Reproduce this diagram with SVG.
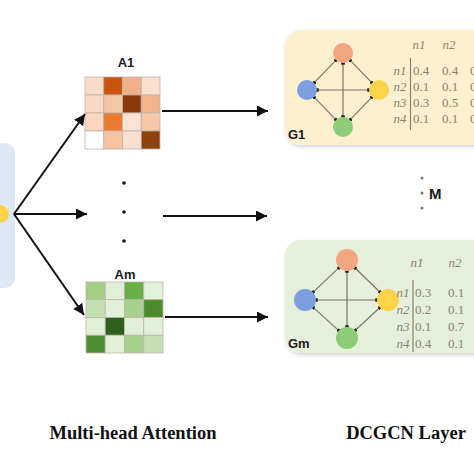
<svg xmlns="http://www.w3.org/2000/svg" width="474" height="474" viewBox="0 0 474 474">
<defs>
<style>
.arr{stroke:#111;stroke-width:2;fill:none;marker-end:url(#ah)}
.edge{stroke:#7d7565;stroke-width:1.2;fill:none;marker-start:url(#sq);marker-end:url(#sq)}
.lbl{font-family:"Liberation Sans",Arial,sans-serif;font-weight:bold;fill:#1a1a1a}
.cap{font-family:"Liberation Serif","Times New Roman",serif;font-weight:bold;font-size:18.5px;fill:#111}
.tb{font-family:"Liberation Serif","Times New Roman",serif;font-size:13px;fill:#8a8070}
.tbi{font-family:"Liberation Serif","Times New Roman",serif;font-style:italic;font-size:13px;fill:#8a8070}
.grid rect{stroke:#bdb3ad;stroke-width:0.8}
.dot{fill:#111}
.gdot{fill:#777}
</style>
<marker id="ah" viewBox="0 0 10 10" refX="10" refY="5" markerWidth="11" markerHeight="11" markerUnits="userSpaceOnUse" orient="auto">
<path d="M0,0 L10,5 L0,10 z" fill="#111"/>
</marker>
<marker id="sq" viewBox="0 0 4 4" refX="2" refY="2" markerWidth="3.5" markerHeight="3.5" markerUnits="userSpaceOnUse" orient="auto">
<rect x="0" y="0" width="4" height="4" fill="#222"/>
</marker>
<filter id="sh" x="-10%" y="-10%" width="130%" height="130%">
<feGaussianBlur in="SourceAlpha" stdDeviation="2"/>
<feOffset dx="1" dy="2"/>
<feComponentTransfer><feFuncA type="linear" slope="0.18"/></feComponentTransfer>
<feMerge><feMergeNode/><feMergeNode in="SourceGraphic"/></feMerge>
</filter>
<filter id="soft"><feGaussianBlur stdDeviation="0.6"/></filter>
</defs>
<rect width="474" height="474" fill="#fff"/>

<g id="input">
<rect x="-12" y="143" width="27" height="145" rx="10" fill="#dde8f4"/>
<circle cx="0" cy="214" r="9" fill="#f9d447" filter="url(#soft)"/>
</g>

<g id="A1">
<text class="lbl" x="126" y="67" font-size="13" text-anchor="middle">A1</text>
<g class="grid">
<rect x="85" y="77" width="18.75" height="18" fill="#f9dcc8"/>
<rect x="103.75" y="77" width="18.75" height="18" fill="#c8540f"/>
<rect x="122.5" y="77" width="18.75" height="18" fill="#f0b08a"/>
<rect x="141.25" y="77" width="18.75" height="18" fill="#fbe0cf"/>
<rect x="85" y="95" width="18.75" height="18" fill="#fad8c4"/>
<rect x="103.75" y="95" width="18.75" height="18" fill="#f5c5a5"/>
<rect x="122.5" y="95" width="18.75" height="18" fill="#8a3a0a"/>
<rect x="141.25" y="95" width="18.75" height="18" fill="#f2b48d"/>
<rect x="85" y="113" width="18.75" height="18" fill="#fbd6bf"/>
<rect x="103.75" y="113" width="18.75" height="18" fill="#e97a30"/>
<rect x="122.5" y="113" width="18.75" height="18" fill="#fbe2d3"/>
<rect x="141.25" y="113" width="18.75" height="18" fill="#f6c8a8"/>
<rect x="85" y="131" width="18.75" height="18" fill="#ffffff"/>
<rect x="103.75" y="131" width="18.75" height="18" fill="#f6c2a0"/>
<rect x="122.5" y="131" width="18.75" height="18" fill="#fbe0d0"/>
<rect x="141.25" y="131" width="18.75" height="18" fill="#8f410e"/>
</g>
</g>

<g id="Am">
<text class="lbl" x="125" y="279" font-size="13" text-anchor="middle">Am</text>
<g class="grid">
<rect x="86" y="282" width="19.25" height="17.75" fill="#a3cf85"/>
<rect x="105.25" y="282" width="19.25" height="17.75" fill="#e1efd7"/>
<rect x="124.5" y="282" width="19.25" height="17.75" fill="#6aae46"/>
<rect x="143.75" y="282" width="19.25" height="17.75" fill="#e3f0da"/>
<rect x="86" y="299.75" width="19.25" height="17.75" fill="#c5e0b0"/>
<rect x="105.25" y="299.75" width="19.25" height="17.75" fill="#e2f0d9"/>
<rect x="124.5" y="299.75" width="19.25" height="17.75" fill="#a8d08d"/>
<rect x="143.75" y="299.75" width="19.25" height="17.75" fill="#4c8c2c"/>
<rect x="86" y="317.5" width="19.25" height="17.75" fill="#e1efd8"/>
<rect x="105.25" y="317.5" width="19.25" height="17.75" fill="#2f5f1c"/>
<rect x="124.5" y="317.5" width="19.25" height="17.75" fill="#e1efd8"/>
<rect x="143.75" y="317.5" width="19.25" height="17.75" fill="#e2f0d9"/>
<rect x="86" y="335.25" width="19.25" height="17.75" fill="#4f8f32"/>
<rect x="105.25" y="335.25" width="19.25" height="17.75" fill="#e2f0d9"/>
<rect x="124.5" y="335.25" width="19.25" height="17.75" fill="#a8d08d"/>
<rect x="143.75" y="335.25" width="19.25" height="17.75" fill="#c6e0b3"/>
</g>
</g>

<g id="ellipsis-heads">
<circle class="dot" cx="124" cy="183" r="1.8"/>
<circle class="dot" cx="124" cy="212" r="1.8"/>
<circle class="dot" cx="124" cy="241" r="1.8"/>
</g>

<g id="G1">
<rect x="285" y="30" width="205" height="115" rx="16" fill="#fcf0cf" filter="url(#sh)"/>
<g id="G1-edges">
<line class="edge" x1="336" y1="60.2" x2="314" y2="82.8"/>
<line class="edge" x1="350" y1="60.2" x2="372" y2="82.8"/>
<line class="edge" x1="314" y1="97.2" x2="336" y2="119.8"/>
<line class="edge" x1="372" y1="97.2" x2="350" y2="119.8"/>
<line class="edge" x1="343" y1="63" x2="343" y2="117"/>
<line class="edge" x1="317" y1="90" x2="369" y2="90"/>
</g>
<g filter="url(#soft)">
<circle cx="343" cy="53" r="10" fill="#f4a582"/>
<circle cx="307" cy="90" r="10" fill="#7b9fe0"/>
<circle cx="379" cy="90" r="10" fill="#fdd34a"/>
<circle cx="343" cy="127" r="10" fill="#8fcc7a"/>
</g>
<text class="lbl" x="288" y="139" font-size="13">G1</text>
<g id="G1-table">
<text class="tbi" x="419" y="49" text-anchor="middle">n1</text>
<text class="tbi" x="449" y="49" text-anchor="middle">n2</text>
<line x1="410.5" y1="58" x2="410.5" y2="130" stroke="#8a8070" stroke-width="1.2"/>
<text class="tbi" x="400" y="75" text-anchor="middle">n1</text>
<text class="tbi" x="400" y="91" text-anchor="middle">n2</text>
<text class="tbi" x="400" y="107" text-anchor="middle">n3</text>
<text class="tbi" x="400" y="123" text-anchor="middle">n4</text>
<text class="tb" x="413" y="75">0.4</text><text class="tb" x="442" y="75">0.4</text><text class="tb" x="470" y="75">0.2</text>
<text class="tb" x="413" y="91">0.1</text><text class="tb" x="442" y="91">0.1</text><text class="tb" x="470" y="91">0.1</text>
<text class="tb" x="413" y="107">0.3</text><text class="tb" x="442" y="107">0.5</text><text class="tb" x="470" y="107">0.2</text>
<text class="tb" x="413" y="123">0.1</text><text class="tb" x="442" y="123">0.1</text><text class="tb" x="470" y="123">0.2</text>
</g>
</g>

<g id="ellipsis-M">
<circle class="gdot" cx="422" cy="178" r="1.5"/>
<circle class="gdot" cx="422" cy="193" r="1.5"/>
<circle class="gdot" cx="422" cy="208" r="1.5"/>
<text class="lbl" x="429" y="199" font-size="15">M</text>
</g>

<g id="Gm">
<rect x="285" y="240" width="205" height="113" rx="16" fill="#e4f0da" filter="url(#sh)"/>
<g id="Gm-edges">
<line class="edge" x1="339" y1="267.6" x2="313" y2="292.4"/>
<line class="edge" x1="354.9" y1="267.7" x2="380.1" y2="292.3"/>
<line class="edge" x1="313.2" y1="307.4" x2="338.8" y2="330.6"/>
<line class="edge" x1="379.9" y1="307.5" x2="355.1" y2="330.5"/>
<line class="edge" x1="347" y1="271" x2="347" y2="327"/>
<line class="edge" x1="316" y1="300" x2="377" y2="300"/>
</g>
<g filter="url(#soft)">
<circle cx="347" cy="260" r="11" fill="#f4a582"/>
<circle cx="305" cy="300" r="11" fill="#7b9fe0"/>
<circle cx="388" cy="300" r="11" fill="#fdd34a"/>
<circle cx="347" cy="338" r="11" fill="#8fcc7a"/>
</g>
<text class="lbl" x="288" y="348" font-size="13">Gm</text>
<g id="Gm-table">
<text class="tbi" x="417" y="267" text-anchor="middle">n1</text>
<text class="tbi" x="455" y="267" text-anchor="middle">n2</text>
<line x1="413" y1="280" x2="413" y2="352" stroke="#8a8070" stroke-width="1.2"/>
<text class="tbi" x="403" y="297" text-anchor="middle">n1</text>
<text class="tbi" x="403" y="314" text-anchor="middle">n2</text>
<text class="tbi" x="403" y="331" text-anchor="middle">n3</text>
<text class="tbi" x="403" y="348" text-anchor="middle">n4</text>
<text class="tb" x="415" y="297">0.3</text><text class="tb" x="448" y="297">0.1</text>
<text class="tb" x="415" y="314">0.2</text><text class="tb" x="448" y="314">0.1</text>
<text class="tb" x="415" y="331">0.1</text><text class="tb" x="448" y="331">0.7</text>
<text class="tb" x="415" y="348">0.4</text><text class="tb" x="448" y="348">0.1</text>
</g>
</g>

<g id="connectors">
<line class="arr" x1="14" y1="214" x2="85" y2="114"/>
<line class="arr" x1="14" y1="214" x2="87" y2="214"/>
<line class="arr" x1="14" y1="214" x2="84" y2="315"/>
<line class="arr" x1="162" y1="111" x2="268" y2="111"/>
<line class="arr" x1="163" y1="216" x2="267" y2="216"/>
<line class="arr" x1="165" y1="317" x2="268" y2="317"/>
</g>

<g id="captions">
<text class="cap" x="133" y="439" text-anchor="middle">Multi-head Attention</text>
<text class="cap" x="406" y="439" text-anchor="middle">DCGCN Layer</text>
</g>
</svg>
